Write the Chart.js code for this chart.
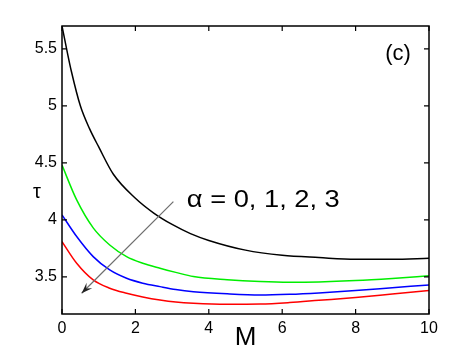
<!DOCTYPE html>
<html><head><meta charset="utf-8">
<script src="https://cdn.jsdelivr.net/npm/chart.js@4/dist/chart.umd.min.js"></script>
<style>html,body{margin:0;padding:0;background:#fff;overflow:hidden}</style>
</head><body>
<canvas id="c" width="474" height="355"></canvas>
<script>
// ---- data ----
const xTicks = [0, 2, 4, 6, 8, 10];
const yTicks = [3.5, 4, 4.5, 5, 5.5];

const mBlack   = [0, 0.15, 0.25, 0.5, 0.75, 1, 1.4, 2, 2.5, 3, 3.5, 4, 5, 6, 7, 8, 9, 10];
const tauBlack = [5.70, 5.46, 5.31, 5.0, 4.80, 4.64, 4.40, 4.19, 4.06, 3.96, 3.88, 3.82, 3.735, 3.69, 3.67, 3.655, 3.655, 3.664];

const mCol      = [0, 0.4, 0.85, 1.3, 1.76, 2.2, 2.67, 3.1, 3.58, 4.5, 5.4, 6.2, 7, 8, 9, 10];
const tauGreen  = [4.48, 4.175, 3.93, 3.78, 3.678, 3.62, 3.576, 3.54, 3.503, 3.475, 3.459, 3.453, 3.456, 3.468, 3.487, 3.51];
const tauBlue   = [4.044, 3.854, 3.678, 3.561, 3.488, 3.445, 3.415, 3.39, 3.371, 3.352, 3.342, 3.348, 3.36, 3.38, 3.405, 3.43];
const tauRed    = [3.81, 3.62, 3.474, 3.401, 3.357, 3.325, 3.298, 3.28, 3.269, 3.26, 3.262, 3.275, 3.295, 3.32, 3.35, 3.38];

const arrowM   = [3.035, 0.535];
const arrowTau = [4.16, 3.357];

const xTitle = 'M';
const yTitle = 'τ';
const annText = 'α = 0, 1, 2, 3';
const panelText = '(c)';

const FONT = "'Liberation Sans', Arial, Helvetica, sans-serif";

function pts(xs, ys) { return xs.map((x, i) => ({x: x, y: ys[i]})); }

const decor = {
  id: 'decor',
  afterDatasetsDraw(chart) {
    const {ctx, chartArea: a, scales: {x, y}} = chart;
    ctx.save();
    // arrow
    const x0 = x.getPixelForValue(arrowM[0]), y0 = y.getPixelForValue(arrowTau[0]);
    const x1 = x.getPixelForValue(arrowM[1]), y1 = y.getPixelForValue(arrowTau[1]);
    ctx.strokeStyle = '#6e6e6e'; ctx.lineWidth = 1.2;
    ctx.beginPath(); ctx.moveTo(x0, y0); ctx.lineTo(x1, y1); ctx.stroke();
    const ang = Math.atan2(y1 - y0, x1 - x0);
    const L = 11, W = 4;
    ctx.fillStyle = '#222';
    ctx.beginPath();
    ctx.moveTo(x1, y1);
    ctx.lineTo(x1 - L * Math.cos(ang) + W * Math.sin(ang), y1 - L * Math.sin(ang) - W * Math.cos(ang));
    ctx.lineTo(x1 - 0.6 * L * Math.cos(ang), y1 - 0.6 * L * Math.sin(ang));
    ctx.lineTo(x1 - L * Math.cos(ang) - W * Math.sin(ang), y1 - L * Math.sin(ang) + W * Math.cos(ang));
    ctx.closePath(); ctx.fill();

    // box
    ctx.strokeStyle = '#000'; ctx.lineWidth = 1.5;
    ctx.strokeRect(a.left, a.top, a.right - a.left, a.bottom - a.top);
    // inward ticks
    ctx.lineWidth = 1.2;
    const tl = 5;
    ctx.beginPath();
    xTicks.forEach(v => {
      const px = x.getPixelForValue(v);
      ctx.moveTo(px, a.bottom); ctx.lineTo(px, a.bottom - tl);
      ctx.moveTo(px, a.top); ctx.lineTo(px, a.top + tl);
    });
    yTicks.forEach(v => {
      const py = y.getPixelForValue(v);
      ctx.moveTo(a.left, py); ctx.lineTo(a.left + tl, py);
      ctx.moveTo(a.right, py); ctx.lineTo(a.right - tl, py);
    });
    ctx.stroke();

    // texts
    ctx.fillStyle = '#000';
    ctx.textBaseline = 'alphabetic';
    ctx.font = '20px ' + FONT;
    ctx.textAlign = 'center';
    ctx.fillText(yTitle, 37, 198);

    ctx.font = '22px ' + FONT;
    ctx.fillText(panelText, a.right - 31, a.top + 34);

    ctx.font = '23px ' + FONT;
    ctx.textAlign = 'left';
    const w = ctx.measureText(annText).width;
    const sx = 153 / w;
    ctx.translate(x.getPixelForValue(3.4), y.getPixelForValue(4.117));
    ctx.scale(sx, 1);
    ctx.fillText(annText, 0, 0);
    ctx.restore();
  }
};

new Chart(document.getElementById('c'), {
  type: 'line',
  data: {
    datasets: [
      {data: pts(mBlack, tauBlack), borderColor: '#000000'},
      {data: pts(mCol, tauGreen), borderColor: '#00ee00'},
      {data: pts(mCol, tauBlue), borderColor: '#0000ff'},
      {data: pts(mCol, tauRed), borderColor: '#ff0000'}
    ].map(d => Object.assign(d, {borderWidth: 1.5, pointRadius: 0, fill: false, cubicInterpolationMode: 'monotone'}))
  },
  options: {
    responsive: false,
    animation: false,
    devicePixelRatio: 1,
    layout: {padding: {left: 0, right: 45, top: 26, bottom: 0}},
    plugins: {legend: {display: false}, tooltip: {enabled: false}},
    scales: {
      x: {
        type: 'linear', min: 0, max: 10,
        afterBuildTicks: s => { s.ticks = xTicks.map(v => ({value: v})); },
        afterFit: s => { s.height = 41; },
        grid: {display: false, drawTicks: false},
        border: {display: false},
        ticks: {color: '#000', font: {family: FONT, size: 16}, padding: 5, maxRotation: 0, callback: v => String(v)},
        title: {display: true, text: xTitle, color: '#000', font: {family: FONT, size: 26}, padding: {top: 0, bottom: 2}}
      },
      y: {
        type: 'linear', min: 3.175, max: 5.7,
        afterBuildTicks: s => { s.ticks = yTicks.map(v => ({value: v})); },
        afterFit: s => { s.width = 62; },
        grid: {display: false, drawTicks: false},
        border: {display: false},
        ticks: {color: '#000', font: {family: FONT, size: 16}, padding: 5, callback: v => String(v)}
      }
    }
  },
  plugins: [decor]
});
</script>
</body></html>
